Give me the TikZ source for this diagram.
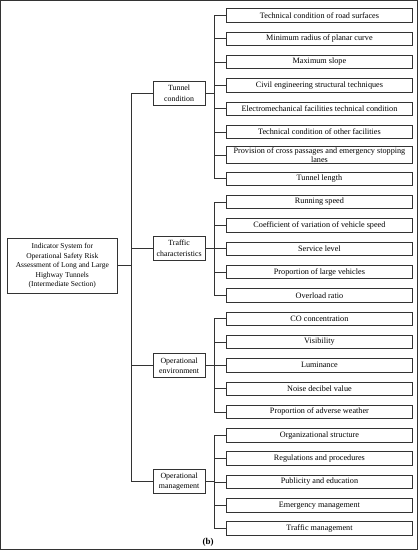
\documentclass[tikz,border=0pt]{standalone}
\usepackage{fontspec}
\setmainfont{Liberation Serif}
\begin{document}
\begin{tikzpicture}[x=1pt,y=-1pt,
  line width=0.8pt,
  every path/.style={draw=black!80},
  box/.style={draw=black!80, line width=0.8pt, rectangle, inner sep=0pt, align=center, text=black},
  leaf/.style={box, minimum width=187pt, minimum height=13.3pt, font=\fontsize{8.2}{7.3}\selectfont},
  cat/.style={box, minimum width=52pt, minimum height=24pt, font=\fontsize{7.9}{10.5}\selectfont},
  rootbox/.style={box, minimum width=109.4pt, minimum height=55pt, font=\fontsize{7.5}{9.4}\selectfont}
]
\useasboundingbox (0,0) rectangle (418,550);
\coordinate (trunk) at (131,0);
\coordinate (br) at (214,0);

\node[rootbox] (root) at (62,265.8) {Indicator System for\\Operational Safety Risk\\Assessment of Long and Large\\Highway Tunnels\\(Intermediate Section)};

\node[cat] (c1) at (179,93) {Tunnel\\condition};
\node[cat] (c2) at (179,248) {Traffic\\characteristics};
\node[cat] (c3) at (179,365.7) {Operational\\environment};
\node[cat] (c4) at (179,482) {Operational\\management};

\node[leaf] (l1) at (319.5,15) {Technical condition of road surfaces};
\node[leaf] (l2) at (319.5,38.4) {Minimum radius of planar curve};
\node[leaf] (l3) at (319.5,61.7) {Maximum slope};
\node[leaf] (l4) at (319.5,85.1) {Civil engineering structural techniques};
\node[leaf] (l5) at (319.5,108.4) {Electromechanical facilities technical condition};
\node[leaf] (l6) at (319.5,131.8) {Technical condition of other facilities};
\node[leaf, minimum height=16.6pt] (l7) at (319.5,155) {Provision of cross passages and emergency stopping\\lanes};
\node[leaf] (l8) at (319.5,178.5) {Tunnel length};

\node[leaf] (l9) at (319.5,201.9) {Running speed};
\node[leaf] (l10) at (319.5,225.2) {Coefficient of variation of vehicle speed};
\node[leaf] (l11) at (319.5,248.6) {Service level};
\node[leaf] (l12) at (319.5,272) {Proportion of large vehicles};
\node[leaf] (l13) at (319.5,295.3) {Overload ratio};

\node[leaf] (l14) at (319.5,318.7) {CO concentration};
\node[leaf] (l15) at (319.5,342) {Visibility};
\node[leaf] (l16) at (319.5,365.4) {Luminance};
\node[leaf] (l17) at (319.5,388.8) {Noise decibel value};
\node[leaf] (l18) at (319.5,412.1) {Proportion of adverse weather};

\node[leaf] (l19) at (319.5,435.5) {Organizational structure};
\node[leaf] (l20) at (319.5,458.8) {Regulations and procedures};
\node[leaf] (l21) at (319.5,482.2) {Publicity and education};
\node[leaf] (l22) at (319.5,505.6) {Emergency management};
\node[leaf] (l23) at (319.5,528.9) {Traffic management};

\node[font=\fontsize{9}{10}\selectfont, inner sep=0pt] (cap) at (208,543) {\textbf{(b)}};

% root to trunk
\draw (root.east) -- (root.east -| trunk);
\draw (c1.west -| trunk) -- (c4.west -| trunk);
\foreach \c in {c1,c2,c3,c4} {
  \draw (\c.west) -- (\c.west -| trunk);
}
% branches
\foreach \l in {l1,l2,l3,l4,l5,l6,l7,l8} {
  \draw (c1.east) -- (c1.east -| br) |- (\l.west);
}
\foreach \l in {l9,l10,l11,l12,l13} {
  \draw (c2.east) -- (c2.east -| br) |- (\l.west);
}
\foreach \l in {l14,l15,l16,l17,l18} {
  \draw (c3.east) -- (c3.east -| br) |- (\l.west);
}
\foreach \l in {l19,l20,l21,l22,l23} {
  \draw (c4.east) -- (c4.east -| br) |- (\l.west);
}
\end{tikzpicture}
\end{document}
